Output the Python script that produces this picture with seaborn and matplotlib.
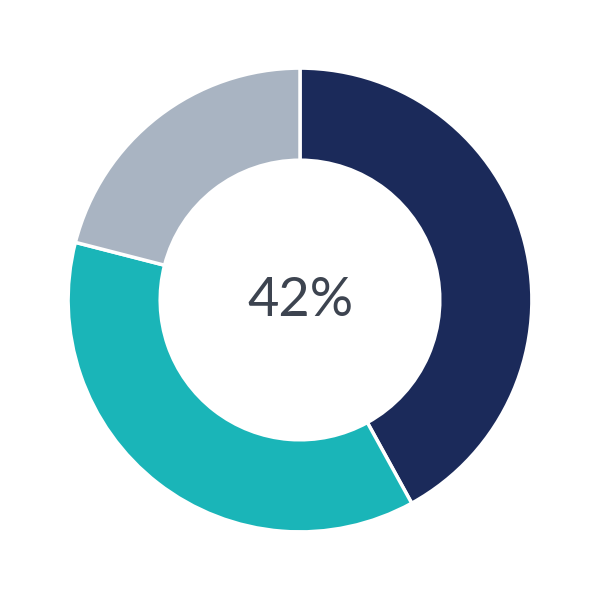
import matplotlib
matplotlib.use('Agg')
import matplotlib.pyplot as plt
import seaborn as sns

# Dữ liệu
labels = ['A', 'B', 'C']
values = [42, 37, 21]
colors = ['#1b2a5a', '#1ab5b8', '#a9b4c2']
center_label = '42%'

sns.set_theme(style='white')
plt.rcParams['font.family'] = ['Lato', 'DejaVu Sans']

fig, ax = plt.subplots(figsize=(6, 6), dpi=100)
fig.subplots_adjust(left=0, right=1, bottom=0, top=1)

ax.pie(values, colors=colors, startangle=90, counterclock=False,
       radius=0.773,
       wedgeprops=dict(width=0.307, edgecolor='white', linewidth=2.5))
ax.text(0, 0, center_label, ha='center', va='center', fontsize=39,
        color='#3d4450', fontweight='normal')

ax.set_xlim(-1, 1)
ax.set_ylim(-1, 1)
ax.set_aspect('equal')
ax.axis('off')

plt.savefig('out.png', dpi=100, facecolor='white')
